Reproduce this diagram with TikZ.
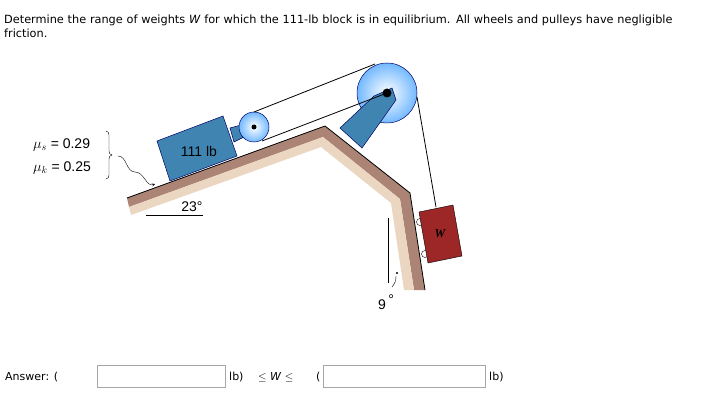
\documentclass[tikz,border=0pt]{standalone}
\usepackage{fontspec}
\setmainfont{DejaVu Sans}
\newfontfamily\arialf{Liberation Sans}
\newfontfamily\timesf{Liberation Serif}
\begin{document}
\begin{tikzpicture}[x=1pt,y=-1pt,
  lbl/.style={inner sep=0pt,font=\fontsize{11}{14}\selectfont},
  fig/.style={inner sep=0pt,font=\arialf\fontsize{14}{16}\selectfont},
  ansbox/.style={draw=gray!70,minimum height=22pt,inner sep=0pt},
  rope/.style={black,line width=0.8pt},
  bluefill/.style={fill=blue!40!cyan!60!black!75,draw=blue!40!black,line width=0.5pt},
  pul/.style={inner color=white,outer color=cyan!50!blue!55,draw=blue!40!black,line width=0.5pt}]
\useasboundingbox (0,0) rectangle (709,406);
\node[lbl,anchor=north west,align=left,text width=690pt,font=\fontsize{11.3}{14}\selectfont] (title) at (4,15)
 {Determine the range of weights \textit{W} for which the 111-lb block is in equilibrium. All wheels and pulleys have negligible friction.};
% ground
\fill[brown!70!red!55!black!60] (127,198) -- (325,126) -- (410,193) -- (425,290) -- (414,290) -- (400,199) -- (323,137) -- (129,207) -- cycle;
\fill[brown!40!white!80] (129,207) -- (323,137) -- (400,199) -- (414,290) -- (404,290) -- (391,203) -- (321,147) -- (131,215) -- cycle;
\draw[black,line width=0.8pt] (127,198) -- (325,126) -- (410,193) -- (425,290);
\coordinate (bigc) at (387,93);
\coordinate (smc) at (254,127);
\node[pul,circle,minimum size=60pt,inner sep=0pt] (big) at (bigc) {};
% support arm
\fill[bluefill] (340,128) -- (374,96) -- (392,88) -- (396,100) -- (362,148) -- cycle;
\fill[black] (bigc) circle (4.5);
% block
\draw[bluefill] (157,141) -- (223,116) -- (237,156) -- (170,181) -- cycle;
\node[fig] (blk) at (199,151) {111 lb};
\fill[bluefill] (230,128) -- (252,122) -- (256,131) -- (234,142) -- cycle;
\node[pul,circle,minimum size=30pt,inner sep=0pt] (small) at (smc) {};
\fill[black] (smc) circle (2.5);
% ropes
\draw[rope] (254,112) -- (375,64);
\draw[rope] (262,141) -- (bigc);
\draw[rope] (417,97) -- (436,207);
% W block
\draw[fill=white] (420,222) circle (3.5); \draw[fill=white] (425,254) circle (3.5);
\draw[fill=red!55!black!85,draw=black] (419,212) -- (453,205) -- (462,256) -- (428,263) -- cycle;
\node[inner sep=0pt,font=\timesf\bfseries\itshape\fontsize{12}{13}\selectfont] (wlab) at (440,234) {W};
% angles
\node[fig] (a23) at (192,207) {23°};
\draw (146,215) -- (203,215);
\draw (388,218) -- (388,283);
\fill (397,273) circle (1.2);
\draw (396,276) to[bend left=20] (392,287);
\node[fig] (a9) at (386,302) {9\,\raisebox{5pt}{°}};
% mu
\node[fig,anchor=west] (mus) at (33,145) {$\mu_s$ = 0.29};
\node[fig,anchor=west] (muk) at (33,168) {$\mu_k$ = 0.25};
\draw (106,131) to[out=0,in=90] (109,135) -- (109,151) to[out=-90,in=180] (112,155) to[out=180,in=90] (109,159) -- (109,175) to[out=-90,in=0] (106,179);
\coordinate (aend) at (155,184);
\draw[->,>=stealth] (118,156) to[out=0,in=180,looseness=1] (135,172) to[out=0,in=200] (aend);
% answer
\node[lbl,anchor=west] (ans) at (5,377) {Answer: (};
\node[ansbox,minimum width=128pt,anchor=west] (b1) at (97,376) {};
\node[lbl,anchor=west] (l1) at (229,377) {lb)};
\node[lbl,anchor=west] (le) at (258,377) {$\le$ \textit{W} $\le$};
\node[lbl,anchor=west] (p2) at (316,377) {(};
\node[ansbox,minimum width=162pt,anchor=west] (b2) at (323,376) {};
\node[lbl,anchor=west] (l2) at (489,377) {lb)};
\end{tikzpicture}
\end{document}
